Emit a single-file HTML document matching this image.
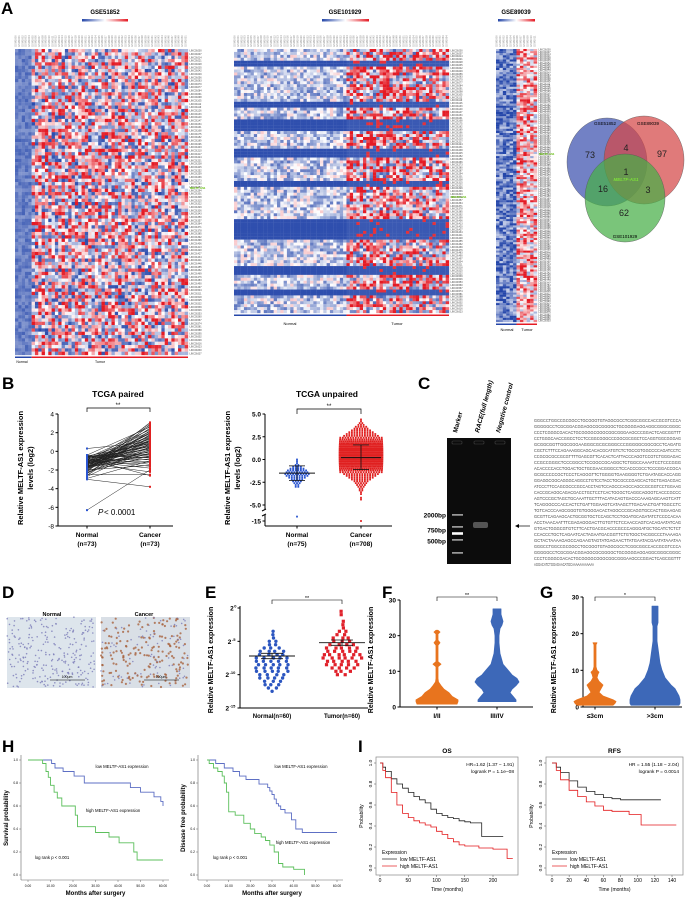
<!DOCTYPE html>
<html><head><meta charset="utf-8"><style>
html,body{margin:0;padding:0;background:#fff;}
svg{display:block;font-family:"Liberation Sans",Arial,sans-serif;}
</style></head><body>
<svg id="fig" width="685" height="898" viewBox="0 0 685 898" xmlns="http://www.w3.org/2000/svg">
<g id="gA"></g>
<g id="gB"></g>
<g id="gC"></g>
<g id="gD"></g>
<g id="gE"></g>
<g id="gF"></g>
<g id="gG"></g>
<g id="gH"></g>
<g id="gI"></g>
</svg>
<script>
// ---------- DATA ----------
const hm2SolidRows = [4,5,18,19,24,25,26,27,34,35,36,45,46,58,59,60,61,62,63,64,74,75,76,82,83];
const hm1NormalCols = 5;
const hm2NormalCols = 34;
const hm3NormalCols = 6;
const vennLabels = ["GSE51852","GSE89039","GSE101929"];
const vennCounts = ["73","4","97","1","16","3","62"];
const pairedNormal = [-6.3,0.3,-3.0,-2.9,-2.7,-2.6,-2.5,-2.4,-2.3,-2.2,-2.2,-2.1,-2.0,-2.0,-1.9,-1.9,-1.8,-1.8,-1.7,-1.7,-1.7,-1.6,-1.6,-1.5,-1.5,-1.5,-1.4,-1.4,-1.4,-1.3,-1.3,-1.3,-1.2,-1.2,-1.2,-1.1,-1.1,-1.1,-1.0,-1.0,-1.0,-0.9,-0.9,-0.9,-0.8,-0.8,-0.8,-0.7,-0.7,-0.6,-0.6,-0.5,-0.5,-0.4,-0.4,-1.5,-1.6,-1.7,-1.2,-1.0,-2.6,-2.1,-1.8,-1.3,-0.9,-1.1,-1.4,-0.7,-2.4,-1.9,-0.6,-1.2,-1.5];
const pairedCancer = [-2.0,1.0,-3.8,-1.0,0.5,2.9,-2.5,1.8,0.2,3.1,-0.5,2.5,1.2,-1.5,0.8,2.2,-0.2,1.5,0.0,2.7,1.1,-0.8,0.4,2.0,-1.2,1.7,0.6,-0.3,2.4,0.9,-2.2,1.4,0.1,1.9,-0.6,2.8,0.3,-1.8,1.3,0.7,-0.1,2.1,-0.9,1.6,0.5,-2.6,1.0,2.3,-0.4,0.2,1.5,-1.4,0.8,2.6,-0.7,1.2,0.0,3.0,-1.1,0.6,1.8,-0.2,2.0,0.4,-1.6,1.1,-0.5,0.9,2.2,1.4,-0.3,0.7,1.9];
const pairedTicks = [4,2,0,-2,-4,-6,-8];
const unpNormalBinStart = -3.0, unpBinStep = 0.2;
const unpNormalCounts = [2,2,3,4,5,7,9,10,9,8,6,4,2,1,1,1,0];
const unpNormalOutliers = [-13];
const unpCancerBinStart = -4.4;
const unpCancerCounts = [1,1,0,1,1,2,2,3,4,5,6,8,10,12,14,17,20,23,26,29,32,35,37,39,40,40,39,37,35,32,29,26,23,20,17,14,12,10,8,6,5,3,2,1,1];
const unpCancerOutliers = [-15];
const unpTicks = ["5.0","2.5","0.0","-2.5","-5.0"];
const unpTickVals = [5,2.5,0,-2.5,-5];
const unpMeans = {normal:[-1.5,-2.3,-0.7], cancer:[0.2,-1.1,1.6]};
const eBinStart = {normal:-12.5, tumor:-10};
const eBinStep = 0.5;
const eNormalCounts = [1,2,3,3,4,4,5,5,5,5,5,4,4,3,2,2,1,1,1];
const eTumorCounts = [2,3,4,5,5,6,6,5,5,4,3,3,2,2,1,1,1,0,1,1];
const eMeans = {normal:-7.2, tumor:-5.2};
const eTicks = [0,-5,-10,-15];
const fOrangeLevels = [0.8,1.5,2,3,4,5,6,7,8,10,11.3,12,12.7,14,17.3,18,18.7,20,20.5,21,21.5];
const fOrangeWidths = [20,21,21,15,12,7,4,1.5,1,1,1,4,1,1,1,3,1,1,1,3,1];
const fBlueLevels = [1.5,2,3,4,5,6,7,8,9,10,12,15,18,20,22,23,24,25,26,27.5];
const fBlueWidths = [19,19,16,13,15,19,22,20,15,12,6,3,2,2,3,5,6,5,4,4];
const gOrangeLevels = [0.5,1,1.5,2,3,4,5,6,7,8,9,9.5,10,11,14,17,17.5];
const gOrangeWidths = [18,20,21,18,8,4,6,8,4,2,3,4,2,1,1,1,2];
const gBlueLevels = [0.5,1,2,3,4,5,6,8,10,12,14,16,18,20,22,23,25,26,27.5];
const gBlueWidths = [24,25,25,24,22,20,16,10,7,5,4,3,2,2,2,3,3,3,3];
const km1LowT = [0,10.5,12,15.6,20.5,25,45.5,50,56,59,60];
const km1LowS = [1,0.97,0.93,0.9,0.86,0.8,0.76,0.72,0.68,0.64,0.6];
const km1HighT = [0,6.5,8,9,10,11.6,13,15,21,22,30,36,40.5,47,48.5,60];
const km1HighS = [1,0.97,0.9,0.85,0.78,0.72,0.67,0.6,0.52,0.42,0.37,0.33,0.28,0.2,0.13,0.13];
const km2LowT = [0,4,8,12,15,18,24,28,29,30,31,32,33,34,36,39,41,44,60];
const km2LowS = [1,0.97,0.93,0.9,0.86,0.83,0.79,0.76,0.73,0.7,0.66,0.62,0.6,0.57,0.54,0.48,0.4,0.37,0.37];
const km2HighT = [0,1,3,5,7,8,9,10,13,17,20,22,25,27,29,31,33,35,40,45];
const km2HighS = [1,0.97,0.93,0.9,0.86,0.8,0.72,0.55,0.52,0.45,0.4,0.36,0.33,0.3,0.26,0.2,0.1,0.07,0.05,0.0];
const kmTickLabels = ["0.00","10.00","20.00","30.00","40.00","50.00","60.00"];
const osLowT = [0,5,10,20,30,40,50,60,70,80,90,100,110,120,130,140,150,160,175,180,200,218];
const osLowP = [1,0.96,0.92,0.85,0.8,0.76,0.72,0.68,0.65,0.62,0.56,0.52,0.5,0.48,0.47,0.45,0.44,0.43,0.43,0.3,0.3,0.3];
const osHighT = [0,5,10,20,30,40,50,60,70,80,90,100,110,120,130,140,150,160,175,200,225,235];
const osHighP = [1,0.93,0.86,0.72,0.6,0.52,0.48,0.45,0.43,0.41,0.39,0.35,0.32,0.28,0.25,0.22,0.21,0.21,0.19,0.18,0.09,0.09];
const rfsLowT = [0,5,10,20,30,40,50,60,70,80,90,100,110,120,127];
const rfsLowP = [1,0.96,0.91,0.83,0.77,0.73,0.7,0.67,0.66,0.65,0.65,0.65,0.65,0.65,0.65];
const rfsHighT = [0,5,10,20,30,40,50,60,70,80,90,100,104,120,145];
const rfsHighP = [1,0.93,0.84,0.74,0.68,0.63,0.59,0.55,0.54,0.54,0.51,0.51,0.41,0.41,0.41];
const osTicks = [0,50,100,150,200];
const rfsTicks = [0,20,40,60,80,100,120,140];
const probTicks = [0,0.2,0.4,0.6,0.8,1.0];
const seqLines = ["GGGCCTGGCCGCGGCCTGCGGGTGTAGGCGCCTCGGCGGCCACCGCGTCCCA","GGGGGCCTCGCGGACGGAGGCGCGGGGCTGCGGGGAGGAGGCGGGCGGGC","CCCTCGGGCGACACTGCGGGGCGGGCGGCGGGAAGCCCGGACTCAGCGGTTT","CCTGGGCAACCGGCCTCCTCCGGCGGGCCCGGCGCGGCTCCAGGTGGCGGGAG","GCGGCGGTTGGCGGGAAGGGCGCGCGGGCCCGGGGGCGGCGCCTCAGATG","CGCTCTTTCCAGAAAGGCAGCACACGCATGTCTCTGCCGTGGCCCCAGATCCTC","CCGCGCGCCGCGTTTTGAGCGTTCACACTCATTACCCAGGTCCGTCTGGGAGAC","CCGCCGGGCTCCCGGCCTCCGGCCGCAGGCTCTGGCCAAAATCCTCCCGGG","ACACCCCACCTGGACTGCTGCGAACGGGCCTCCACCCGCCTCCCGGACCGCA","GCGCCCCCGCTCCCTCAGGGTTCTGGGGTGAAGGGGTCTGAATAGCACCAGG","GGAGGCGGCAGGGCAGGCCTGTCCTACCTGCGCCCGAGCACTGCTGAGACGAC","ATCCCTTCCAGCGCCCGCCACCTAGTCCAGCCCAGCCAGCCGCGGTCCTGGAAG","CACCGCAGGCAGACGACCTGCTCCTCACTGGGCTCAGGCAGGGTCACCCGCCC","AGTCCCGCTAGCTGCAAATTGCTTTACATACAGTGACCCAAAGAGCAAGTCATT","TCAGGGCCCACCACTCTGATTGGAAGTCATAAGCTTGACAACTGATTGGCCTC","TGTCACCCAAGCGGGTGTGGGGACACTAGGCCCGCAGGTGCCACTGGAAGAG","GCGTTCAGAAGCACTGCGGTGCTCCAGCTCCTGGATGCAGATATCTCCCCACAA","ACCTAAACAATTTCGAGAGGGACTTGTGTTCTCCAACCAGTCACAGAATATCAG","GTGACTGGGCGTGTCTTCACTGACGCACCCGCCCAGGGATGCTGCATCTCTCT","CCACCCTGCTCAGAATCACTAGAATGACGGTTCTGTGGCTACGGCCCTAAAAGA","GCTACTAAAAGAGCCAGAAGTAGTATGAGAACTTATGAATACGAATATAAATAA"];
const seqTail = "AGGACATCTGGAGAACATGCAAAAAAAAAAAA";
const gelMarkerBands = [515,527,533,540,553];
const gelMarkerLabels = ["2000bp","750bp","500bp"];
const gelMarkerLabelY = [515,530,541];

// ---------- HELPERS ----------
const NS = "http://www.w3.org/2000/svg";
function mk(tag, attrs, parent, txt){
  const e = document.createElementNS(NS, tag);
  for (const k in attrs) e.setAttribute(k, attrs[k]);
  if (txt !== undefined) e.textContent = txt;
  parent.appendChild(e);
  return e;
}
function T(parent, x, y, s, size, opts){
  opts = opts || {};
  const a = {x:x, y:y, 'font-size':size, fill:opts.fill||'#000', 'text-anchor':opts.anchor||'middle'};
  if (opts.bold) a['font-weight']='bold';
  if (opts.italic) a['font-style']='italic';
  if (opts.rot!==undefined) a.transform='rotate('+opts.rot+' '+x+' '+y+')';
  if (opts.len) { a.textLength=opts.len; a.lengthAdjust='spacingAndGlyphs'; }
  const e = mk('text', a, parent, s);
  
  
  return e;
}
function L(parent, x1,y1,x2,y2, stroke, w, name){
  const e = mk('line', {x1:x1,y1:y1,x2:x2,y2:y2,stroke:stroke||'#000','stroke-width':w||1}, parent);
  
  
  return e;
}
function noise(i,j,k){ const v = Math.sin(i*12.9898 + j*78.233 + k*37.719)*43758.5453; return v - Math.floor(v); }
function heatColor(v){
  v = Math.max(-1, Math.min(1, v));
  let r,g,b;
  if (v < 0){ const t=-v; r=255-(255-36)*t; g=255-(255-70)*t; b=255-(255-170)*t; }
  else { const t=v; r=255-(255-228)*t; g=255-(255-26)*t; b=255-(255-36)*t; }
  return 'rgb('+Math.round(r)+','+Math.round(g)+','+Math.round(b)+')';
}
function panelLabel(parent, s, x, y){
  return T(parent, x, y, s, 17, {bold:true, anchor:'start', name:'panel-label-'+s.toLowerCase()});
}

// ---------- PANEL A ----------
const gA = document.getElementById('gA');
panelLabel(gA, 'A', 1, 14);
function heatmap(id, x0, x1, y0, y1, cols, rows, normalCols, mode, title, tx, cbx0, cbx1){
  const g = mk('g', {}, gA);
  
  
  T(g, tx, 14, title, 6, {bold:true, name:'heatmap-title'});
  const cb = mk('defs', {}, g);
  const lg = mk('linearGradient', {id:'cb'+id, x1:0, x2:1, y1:0, y2:0}, cb);
  mk('stop', {offset:'0', 'stop-color':'#2446a8'}, lg);
  mk('stop', {offset:'0.5', 'stop-color':'#ffffff'}, lg);
  mk('stop', {offset:'1', 'stop-color':'#e41a23'}, lg);
  const cbr = mk('rect', {x:cbx0, y:19, width:cbx1-cbx0, height:2.5, fill:'url(#cb'+id+')'}, g);
  
  
  const cw = (x1-x0)/cols, rh = (y1-y0)/rows;
  for (let c=0;c<cols;c++){
    const cx = x0 + c*cw + cw/2;
    T(g, cx, y0-2, 'GSM'+(1000+c), 2.6, {fill:'#888', anchor:'start', rot:-90, name:'column-label'});
  }
  for (let r=0;r<rows;r++){
    for (let c=0;c<cols;c++){
      let v;
      const n = noise(r,c,id.length);
      if (mode===1){
        if (c<normalCols) v = -0.85 + n*0.3;
        else v = (n*2-1)*1.05 + 0.08;
      } else if (mode===2){
        const solid = hm2SolidRows.indexOf(r)>=0;
        if (c<normalCols) v = solid ? -0.95 : (-0.75 + n*1.0);
        else v = solid ? (n>0.9 ? 0.9 : -0.9) : ((n*2-1)*1.1 + 0.25);
      } else {
        if (c<normalCols) v = -0.7 + (n-0.5)*0.9;
        else v = 0.3 + (n-0.5)*1.6;
      }
      const cell = mk('rect', {x:(x0+c*cw).toFixed(2), y:(y0+r*rh).toFixed(2), width:(cw+0.15).toFixed(2), height:(rh+0.15).toFixed(2), fill:heatColor(v)}, g);
      
      
    }
    T(g, x1+1.5, y0+r*rh+rh*0.8, 'LINC0'+(1000+r*7), 2.4, {fill:'#444', anchor:'start', name:'gene-label'});
  }
  const nb = mk('rect', {x:x0, y:y1+1.5, width:normalCols*cw, height:1.5, fill:'#2446a8'}, g);
  
  
  const tb = mk('rect', {x:x0+normalCols*cw, y:y1+1.5, width:(cols-normalCols)*cw, height:1.5, fill:'#e41a23'}, g);
  
  
  return g;
}
heatmap('gse51852', 15, 188, 49, 355, 52, 92, hm1NormalCols, 1, 'GSE51852', 105, 82, 128);
T(gA, 22, 363, 'Normal', 3.5, {name:'group-label-normal'});
T(gA, 100, 363, 'Tumor', 3.5, {name:'group-label-tumor'});
heatmap('gse101929', 234, 449, 49, 313, 65, 90, hm2NormalCols, 2, 'GSE101929', 345, 322, 369);
T(gA, 290, 325, 'Normal', 4, {name:'group-label-normal'});
T(gA, 397, 325, 'Tumor', 4, {name:'group-label-tumor'});
heatmap('gse89039', 496, 537, 49, 322, 12, 130, hm3NormalCols, 3, 'GSE89039', 516, 498, 535);
T(gA, 507, 331, 'Normal', 4, {name:'group-label-normal'});
T(gA, 527, 331, 'Tumor', 4, {name:'group-label-tumor'});
T(gA, 190, 189, 'MELTF-AS1', 2.8, {fill:'#5cb800', anchor:'start', bold:true, name:'meltf-highlight'});
T(gA, 451, 198, 'MELTF-AS1', 2.8, {fill:'#5cb800', anchor:'start', bold:true, name:'meltf-highlight'});
T(gA, 539, 155, 'MELTF-AS1', 2.8, {fill:'#5cb800', anchor:'start', bold:true, name:'meltf-highlight'});
const gv = mk('g', {}, gA);


const vc = [[607,162,'rgba(60,80,175,0.72)'],[644,160,'rgba(212,70,70,0.72)'],[625,198,'rgba(70,175,70,0.72)']];
vc.forEach((c,i)=>{
  const e = mk('ellipse', {cx:c[0], cy:c[1], rx:40, ry:44, fill:c[2], stroke:'#555', 'stroke-width':0.4}, gv);
  
  
});
T(gv, 605, 125, vennLabels[0], 4.5, {name:'venn-label'});
T(gv, 648, 125, vennLabels[1], 4.5, {name:'venn-label'});
T(gv, 625, 238, vennLabels[2], 4.5, {name:'venn-label'});
const vpos = [[590,158],[626,151],[662,157],[626,175],[603,192],[648,193],[624,216]];
vennCounts.forEach((s,i)=>{ T(gv, vpos[i][0], vpos[i][1], s, 9, {fill:'#222', name:'venn-count'}); });
T(gv, 626, 181, 'MELTF-AS1', 4.5, {fill:'#7ee03a', bold:true, italic:true, name:'venn-gene'});

// ---------- PANEL B ----------
const gB = document.getElementById('gB');
panelLabel(gB, 'B', 2, 389);
(function(){
  const g = mk('g', {}, gB);
  
  
  const ax = 58, yTop=414, yBot=526, xN=87, xC=150;
  const y = v => yTop + (4 - v)*(yBot-yTop)/12;
  T(g, 118, 397, 'TCGA paired', 8.5, {bold:true, name:'chart-title'});
  T(g, 23, 468, 'Relative MELTF-AS1 expression', 7.5, {bold:true, rot:-90, name:'y-axis-title'});
  T(g, 33, 468, 'levels (log2)', 7.5, {bold:true, rot:-90, name:'y-axis-title'});
  L(g, ax, yTop, ax, yBot);
  L(g, ax, yBot, 173, yBot);
  pairedTicks.forEach(t=>{ L(g, ax-2.5, y(t), ax, y(t)); T(g, ax-4, y(t)+2.5, String(t), 6.5, {anchor:'end', name:'y-tick-label'}); });
  L(g, xN, yBot, xN, yBot+2.5); L(g, xC, yBot, xC, yBot+2.5);
  for (let i=0;i<pairedNormal.length;i++){
    L(g, xN, y(pairedNormal[i]), xC, y(pairedCancer[i]), '#222', 0.5, 'pair-line');
  }
  for (let i=0;i<pairedNormal.length;i++){
    const a = mk('rect', {x:xN-1, y:y(pairedNormal[i])-1, width:2, height:2, fill:'#2a55d0'}, g);
    
    
    const b = mk('rect', {x:xC-1, y:y(pairedCancer[i])-1, width:2, height:2, fill:'#e02020'}, g);
    
    
  }
  const br = mk('path', {d:'M'+xN+' 412 V408 H'+xC+' V412', fill:'none', stroke:'#000', 'stroke-width':0.7}, g);
  
  
  T(g, 118, 407, '**', 6, {name:'significance-stars'});
  T(g, 98, 515, 'P', 8, {italic:true, anchor:'start', name:'p-value'});
  T(g, 104, 515, ' < 0.0001', 8, {anchor:'start', name:'p-value'});
  T(g, xN, 537, 'Normal', 6.5, {bold:true, name:'x-tick-label'});
  T(g, xN, 546, '(n=73)', 6.5, {bold:true, name:'x-tick-label'});
  T(g, xC, 537, 'Cancer', 6.5, {bold:true, name:'x-tick-label'});
  T(g, xC, 546, '(n=73)', 6.5, {bold:true, name:'x-tick-label'});
})();
(function(){
  const g = mk('g', {}, gB);
  
  
  const ax = 265, xN=297, xC=361, yBot=526;
  const y = v => v >= -5.5 ? 414 + (5 - v)*(505-414)/10 : 521 - (v+15)*2.2;
  T(g, 327, 397, 'TCGA unpaired', 8.5, {bold:true, name:'chart-title'});
  T(g, 230, 468, 'Relative MELTF-AS1 expression', 7.5, {bold:true, rot:-90, name:'y-axis-title'});
  T(g, 240, 468, 'levels (log2)', 7.5, {bold:true, rot:-90, name:'y-axis-title'});
  L(g, ax, 414, ax, 510); L(g, ax, 515, ax, yBot);
  L(g, ax-3, 511, ax+1, 509); L(g, ax-3, 516, ax+1, 514);
  L(g, ax, yBot, 392, yBot);
  unpTickVals.forEach((t,i)=>{ L(g, ax-2.5, y(t), ax, y(t)); T(g, ax-4, y(t)+2.5, unpTicks[i], 6.5, {anchor:'end', bold:true, name:'y-tick-label'}); });
  L(g, ax-2.5, y(-15), ax, y(-15)); T(g, ax-4, y(-15)+2.5, '-15', 6.5, {anchor:'end', bold:true, name:'y-tick-label'});
  L(g, xN, yBot, xN, yBot+2.5); L(g, xC, yBot, xC, yBot+2.5);
  function swarm(counts, start, cx, col, name, maxHalf){
    counts.forEach((n,i)=>{
      const v = start + i*unpBinStep;
      const sp = Math.min(2.6, (2*maxHalf)/Math.max(n,1));
      for (let k=0;k<n;k++){
        const px = cx + (k-(n-1)/2)*sp;
        const d = mk('rect', {x:(px-0.9).toFixed(2), y:(y(v)-0.9).toFixed(2), width:1.8, height:1.8, fill:col}, g);
        
        
      }
    });
  }
  swarm(unpNormalCounts, unpNormalBinStart, xN, '#2a55d0', 'normal-point', 20);
  swarm(unpCancerCounts, unpCancerBinStart, xC, '#e02020', 'cancer-point', 22);
  unpNormalOutliers.forEach(v=>{ const d=mk('rect',{x:xN-0.9,y:y(v)-0.9,width:1.8,height:1.8,fill:'#2a55d0'},g);   });
  unpCancerOutliers.forEach(v=>{ const d=mk('rect',{x:xC-0.9,y:y(v)-0.9,width:1.8,height:1.8,fill:'#e02020'},g);   });
  [['normal',xN,18],['cancer',xC,20]].forEach(m=>{
    const mv = unpMeans[m[0]];
    L(g, m[1]-m[2], y(mv[0]), m[1]+m[2], y(mv[0]), '#111', 1, 'mean-line');
    L(g, m[1], y(mv[1]), m[1], y(mv[2]), '#111', 0.8, 'error-bar');
    L(g, m[1]-8, y(mv[1]), m[1]+8, y(mv[1]), '#111', 0.8, 'error-cap');
    L(g, m[1]-8, y(mv[2]), m[1]+8, y(mv[2]), '#111', 0.8, 'error-cap');
  });
  const br = mk('path', {d:'M'+xN+' 414 V409 H'+xC+' V414', fill:'none', stroke:'#000', 'stroke-width':0.7}, g);
  
  
  T(g, 329, 408, '**', 6, {name:'significance-stars'});
  T(g, xN, 537, 'Normal', 6.5, {bold:true, name:'x-tick-label'});
  T(g, xN, 546, '(n=75)', 6.5, {bold:true, name:'x-tick-label'});
  T(g, xC, 537, 'Cancer', 6.5, {bold:true, name:'x-tick-label'});
  T(g, xC, 546, '(n=708)', 6.5, {bold:true, name:'x-tick-label'});
})();

// ---------- PANEL C ----------
const gC = document.getElementById('gC');
panelLabel(gC, 'C', 418, 389);
(function(){
  const gel = mk('rect', {x:447, y:438, width:64, height:126, fill:'#0c0c0c'}, gC);
  
  
  [457,479,500].forEach(cx=>{ const w = mk('rect',{x:cx-5,y:441,width:10,height:3,fill:'none',stroke:'#444','stroke-width':0.6,rx:1},gC);   });
  gelMarkerBands.forEach((yy,i)=>{ const b = mk('rect',{x:452,y:yy-0.8,width:11,height:i===2?2.6:1.4,fill:i===2?'#fff':'#bbb'},gC);   });
  const rb = mk('rect',{x:473,y:522,width:15,height:6,fill:'#555',rx:2},gC);
  
  
  T(gC, 457, 433, 'Marker', 6.5, {anchor:'start', rot:-75, bold:true, name:'lane-label'});
  T(gC, 479, 433, 'RACE(full length)', 6.5, {anchor:'start', rot:-75, bold:true, italic:true, name:'lane-label'});
  T(gC, 500, 433, 'Negative control', 6.5, {anchor:'start', rot:-75, bold:true, italic:true, name:'lane-label'});
  gelMarkerLabels.forEach((s,i)=>{ T(gC, 446, gelMarkerLabelY[i]+2.5, s, 6.5, {anchor:'end', bold:true, name:'marker-size-label'}); });
  L(gC, 516, 526, 530, 526, '#000', 0.7, 'arrow-line');
  const ah = mk('path',{d:'M515 526 L519 524 L519 528 Z',fill:'#000'},gC);
  
  
  for (let i=0;i<24;i++){
    T(gC, 534, 422+i*6, seqLines[i % seqLines.length], 4.2, {anchor:'start', fill:'#444', len:147, name:'sequence-line'});
  }
  T(gC, 534, 422+24*6, seqTail, 4.2, {anchor:'start', fill:'#444', len:60, name:'sequence-line'});
})();

// ---------- PANEL D ----------
const gD = document.getElementById('gD');
panelLabel(gD, 'D', 2, 598);
(function(){
  T(gD, 52, 616, 'Normal', 5.5, {bold:true, name:'image-title'});
  T(gD, 144, 616, 'Cancer', 5.5, {bold:true, name:'image-title'});
  [[7,'normal'],[101,'cancer']].forEach(im=>{
    const g = mk('g', {}, gD);
    
    
    const bg = mk('rect',{x:im[0],y:617,width:89,height:71,fill:im[1]==='normal'?'#dde5ec':'#d9dfe6'},g);
    
    
    for (let i=0;i<260;i++){
      const px = im[0]+noise(i,3,im[0])*88, py = 617+noise(i,7,im[0])*70;
      const brown = im[1]==='cancer' && noise(i,11,2)>0.35;
      const d = mk('circle',{cx:px.toFixed(1),cy:py.toFixed(1),r:brown?1.1:0.8,fill:brown?'#a8633f':'#7a7ab8','fill-opacity':0.8},g);
      
      
    }
    L(g, im[0]+43, 680, im[0]+78, 680, '#000', 0.6, 'scale-bar');
    T(g, im[0]+60, 678, '100μm', 3.5, {name:'scale-bar-label'});
  });
})();

// ---------- PANEL E ----------
const gE = document.getElementById('gE');
panelLabel(gE, 'E', 205, 598);
(function(){
  const g = gE, ax = 240, yBot = 708, xN = 272, xT = 342;
  const y = v => 608 + (0 - v)*(708-608)/15;
  T(g, 213, 660, 'Relative MELTF-AS1 expression', 7, {bold:true, rot:-90, name:'y-axis-title'});
  L(g, ax, 606, ax, yBot); L(g, ax, yBot, 368, yBot);
  eTicks.forEach(t=>{
    L(g, ax-2.5, y(t), ax, y(t));
    const ex = String(t);
    const exW = ex.length*2.3;
    T(g, ax-4-exW, y(t)+2.5, '2', 6.5, {anchor:'end', bold:true, name:'y-tick-label'});
    T(g, ax-3.5-exW, y(t)-0.5, ex, 4, {anchor:'start', bold:true, name:'y-tick-exponent'});
  });
  function sw(counts, start, cx, col, name, shape){
    counts.forEach((n,i)=>{
      const v = start + i*eBinStep;
      for (let k=0;k<n;k++){
        const px = cx + (k-(n-1)/2)*7.5 + (noise(i,k,cx)-0.5)*3;
        let d;
        if (shape==='c') d = mk('circle',{cx:px.toFixed(1),cy:y(v).toFixed(1),r:1.7,fill:col},g);
        else d = mk('rect',{x:(px-1.6).toFixed(1),y:(y(v)-1.6).toFixed(1),width:3.2,height:3.2,fill:col},g);
        
        
      }
    });
  }
  sw(eNormalCounts, eBinStart.normal, xN, '#2c56c0', 'normal-point', 'c');
  sw(eTumorCounts, eBinStart.tumor, xT, '#e0202a', 'tumor-point', 's');
  [[xN,eMeans.normal],[xT,eMeans.tumor]].forEach(m=>{
    L(g, m[0]-23, y(m[1]), m[0]+23, y(m[1]), '#111', 0.9, 'mean-line');
    L(g, m[0], y(m[1]+0.4), m[0], y(m[1]-0.4), '#111', 0.8, 'error-bar');
    L(g, m[0]-11, y(m[1]+0.4), m[0]+11, y(m[1]+0.4), '#111', 0.8, 'error-cap');
    L(g, m[0]-11, y(m[1]-0.4), m[0]+11, y(m[1]-0.4), '#111', 0.8, 'error-cap');
  });
  const br = mk('path', {d:'M'+xN+' 604 V600 H'+xT+' V604', fill:'none', stroke:'#000', 'stroke-width':0.6}, g);
  
  
  T(g, 307, 600, '**', 5.5, {name:'significance-stars'});
  T(g, xN, 718, 'Normal(n=60)', 6, {bold:true, name:'x-tick-label'});
  T(g, xT, 718, 'Tumor(n=60)', 6, {bold:true, name:'x-tick-label'});
})();

// ---------- PANELS F, G ----------
function violinChart(gid, label, lx, ax, xEnd, y30, xs, names, data, stars){
  const g = document.getElementById(gid);
  panelLabel(g, label, lx, 598);
  const yBot = 707;
  const y = v => yBot - v*(yBot-y30)/30;
  T(g, ax-27, 660, 'Relative MELTF-AS1 expression', 7, {bold:true, rot:-90, name:'y-axis-title'});
  L(g, ax, y30, ax, yBot); L(g, ax, yBot, xEnd, yBot);
  [0,10,20,30].forEach(t=>{ L(g, ax-2.5, y(t), ax, y(t)); T(g, ax-4, y(t)+2.5, String(t), 6.5, {anchor:'end', bold:true, name:'y-tick-label'}); });
  data.forEach((d,i)=>{
    const cx = xs[i], lv = d[0], wd = d[1];
    let p = 'M'+cx+' '+y(lv[0]).toFixed(1);
    for (let k=0;k<lv.length;k++) p += ' L'+(cx+wd[k]).toFixed(1)+' '+y(lv[k]).toFixed(1);
    for (let k=lv.length-1;k>=0;k--) p += ' L'+(cx-wd[k]).toFixed(1)+' '+y(lv[k]).toFixed(1);
    p += ' Z';
    const v = mk('path', {d:p, fill:d[2], stroke:d[2], 'stroke-width':0.8, 'stroke-linejoin':'round'}, g);
    
    
    L(g, cx, yBot, cx, yBot+2.5);
    T(g, cx, 718, names[i], 6.5, {bold:true, name:'x-tick-label'});
  });
  const br = mk('path', {d:'M'+xs[0]+' 601 V597 H'+xs[1]+' V601', fill:'none', stroke:'#000', 'stroke-width':0.6}, g);
  
  
  T(g, (xs[0]+xs[1])/2, 597, stars, 5.5, {name:'significance-stars'});
}
violinChart('gF','F',382,400,533,600,[437,497],['I/II','III/IV'],[[fOrangeLevels,fOrangeWidths,'#e8741e'],[fBlueLevels,fBlueWidths,'#3d68b8']],'**');
violinChart('gG','G',540,583,682,597,[595,655],['≤3cm','>3cm'],[[gOrangeLevels,gOrangeWidths,'#e8741e'],[gBlueLevels,gBlueWidths,'#3d68b8']],'*');

// ---------- PANEL H ----------
const gH = document.getElementById('gH');
panelLabel(gH, 'H', 2, 752);
function stepPath(T_, S_, x, y){
  let d = 'M'+x(T_[0]).toFixed(1)+' '+y(S_[0]).toFixed(1);
  for (let i=1;i<T_.length;i++){ d += ' H'+x(T_[i]).toFixed(1)+' V'+y(S_[i]).toFixed(1); }
  return d;
}
function km(ax, x0, x60, ylab, lowT, lowS, highT, highS, annot){
  const g = mk('g', {}, gH);
  
  
  const x = t => x0 + t*(x60-x0)/60;
  const y = s => 875 - s*115;
  L(g, ax, 755, ax, 880, '#666', 0.6); L(g, ax, 880, x60+6, 880, '#666', 0.6);
  [0,0.2,0.4,0.6,0.8,1.0].forEach(t=>{ L(g, ax-2, y(t), ax, y(t), '#666', 0.5); T(g, ax-3, y(t)+1.2, t.toFixed(1), 3.3, {anchor:'end', name:'y-tick-label'}); });
  kmTickLabels.forEach((s,i)=>{ const tx = x(i*10); L(g, tx, 880, tx, 882, '#666', 0.5); T(g, tx, 887, s, 3.3, {name:'x-tick-label'}); });
  T(g, (x0+x60)/2, 895, 'Months after surgery', 6, {bold:true, name:'x-axis-title'});
  T(g, ax-13, 818, ylab, 6, {bold:true, rot:-90, name:'y-axis-title'});
  const p1 = mk('path', {d:stepPath(lowT, lowS, x, y), fill:'none', stroke:'#5d6fc4', 'stroke-width':0.9}, g);
  
  
  const p2 = mk('path', {d:stepPath(highT, highS, x, y), fill:'none', stroke:'#5cbf5c', 'stroke-width':0.9}, g);
  
  
  T(g, annot[0], 768, 'low MELTF-AS1 expression', 4.3, {name:'curve-annotation'});
  T(g, annot[1], annot[2], 'high MELTF-AS1 expression', 4.3, {name:'curve-annotation'});
  T(g, annot[3], 859, annot[4], 4.3, {name:'logrank-annotation'});
}
km(21, 28, 163, 'Survival probability', km1LowT, km1LowS, km1HighT, km1HighS, [122,113,812,52,'log rank p < 0.001']);
km(198, 207, 337, 'Disease free probability', km2LowT, km2LowS, km2HighT, km2HighS, [301,303,844,230,'log rank p < 0.001']);

// ---------- PANEL I ----------
const gI = document.getElementById('gI');
panelLabel(gI, 'I', 358, 752);
function survBox(bx0, bx1, xz, xmaxT, xmaxPx, title, ticks, lowT, lowP, highT, highP, hr){
  const g = mk('g', {}, gI);
  
  
  const x = t => xz + t*(xmaxPx-xz)/xmaxT;
  const y = p => 868 - p*105;
  const box = mk('rect', {x:bx0, y:757, width:bx1-bx0, height:118, fill:'none', stroke:'#888', 'stroke-width':0.7}, g);
  
  
  T(g, (bx0+bx1)/2, 753, title, 6.5, {bold:true, name:'chart-title'});
  probTicks.forEach(t=>{ L(g, bx0-2, y(t), bx0, y(t), '#555', 0.5); T(g, bx0-4, y(t), t.toFixed(1), 4.8, {rot:-90, name:'y-tick-label'}); });
  ticks.forEach(t=>{ L(g, x(t), 875, x(t), 877, '#555', 0.5); T(g, x(t), 882, String(t), 5, {name:'x-tick-label'}); });
  T(g, (bx0+bx1)/2, 891, 'Time (months)', 5, {name:'x-axis-title'});
  T(g, bx0-13, 816, 'Probability', 5, {rot:-90, name:'y-axis-title'});
  const p1 = mk('path', {d:stepPath(lowT, lowP, x, y), fill:'none', stroke:'#222', 'stroke-width':0.8}, g);
  
  
  const p2 = mk('path', {d:stepPath(highT, highP, x, y), fill:'none', stroke:'#e31a1c', 'stroke-width':0.8}, g);
  
  
  T(g, bx1-4, 766, hr[0], 4.8, {anchor:'end', name:'hazard-ratio'});
  T(g, bx1-4, 773, hr[1], 4.8, {anchor:'end', name:'logrank-p'});
  T(g, bx0+6, 854, 'Expression', 5, {anchor:'start', name:'legend-title'});
  L(g, bx0+6, 859, bx0+21, 859, '#222', 0.7, 'legend-swatch-low');
  T(g, bx0+24, 861, 'low MELTF-AS1', 5, {anchor:'start', name:'legend-entry-low'});
  L(g, bx0+6, 866, bx0+21, 866, '#e31a1c', 0.7, 'legend-swatch-high');
  T(g, bx0+24, 868, 'high MELTF-AS1', 5, {anchor:'start', name:'legend-entry-high'});
}
survBox(376, 518, 380, 200, 493, 'OS', osTicks, osLowT, osLowP, osHighT, osHighP, ['HR=1.62 (1.37 − 1.91)','logrank P = 1.1e−08']);
survBox(546, 683, 552, 140, 672, 'RFS', rfsTicks, rfsLowT, rfsLowP, rfsHighT, rfsHighP, ['HR = 1.55 (1.18 − 2.04)','logrank P = 0.0014']);
</script>
</body></html>
